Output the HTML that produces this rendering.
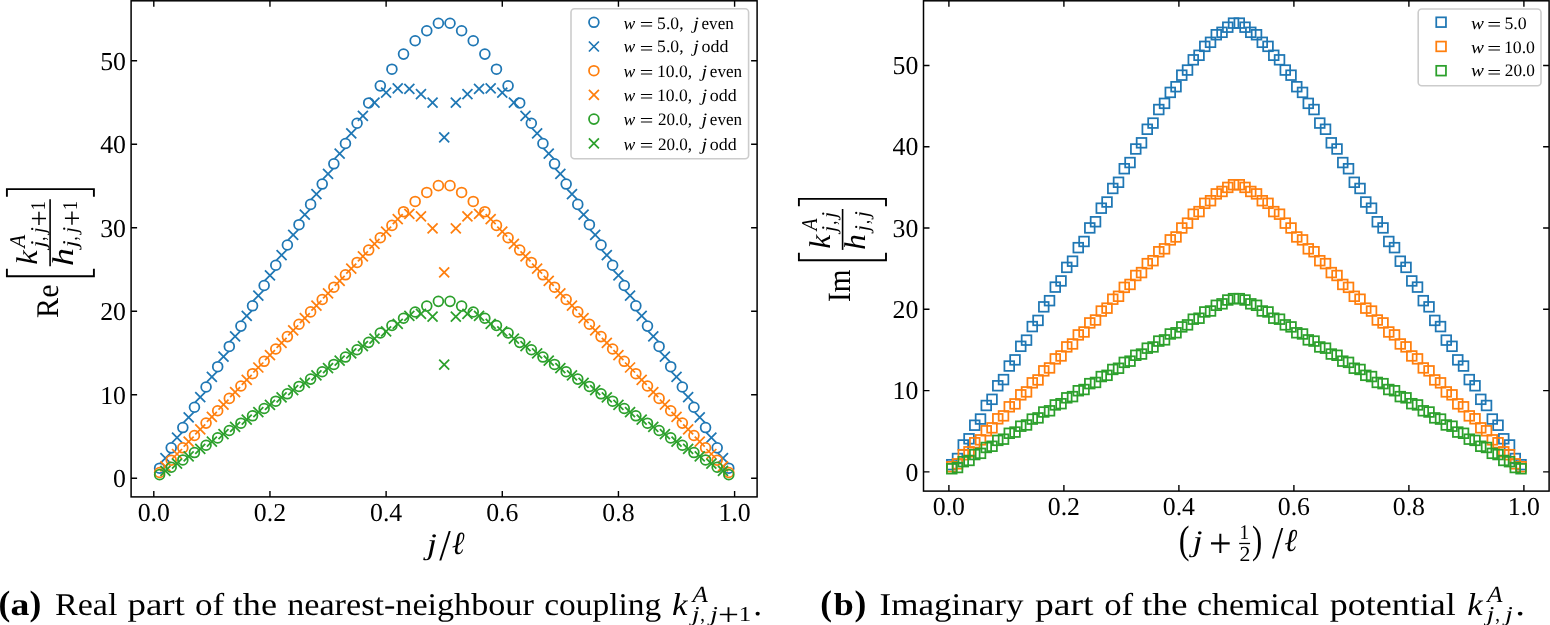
<!DOCTYPE html>
<html><head><meta charset="utf-8"><title>figure</title>
<style>html,body{margin:0;padding:0;background:#fff;overflow:hidden;} svg{display:block;}</style>
</head><body>
<svg width="1550" height="625" viewBox="0 0 1550 625">
<style>
text { font-family: "Liberation Serif", "DejaVu Serif", serif; fill:#000; text-rendering: geometricPrecision; }
.tk { font-size: 25.8px; }
.lg { font-size: 16.9px; white-space: pre; }
</style>
<rect width="1550" height="625" fill="#fff"/>
<g fill="none" stroke-width="1.75"><circle cx="159.61" cy="468.15" r="4.9" stroke="#1f77b4"/><circle cx="171.22" cy="447.86" r="4.9" stroke="#1f77b4"/><circle cx="182.84" cy="427.57" r="4.9" stroke="#1f77b4"/><circle cx="194.46" cy="407.28" r="4.9" stroke="#1f77b4"/><circle cx="206.07" cy="386.99" r="4.9" stroke="#1f77b4"/><circle cx="217.69" cy="366.70" r="4.9" stroke="#1f77b4"/><circle cx="229.30" cy="346.41" r="4.9" stroke="#1f77b4"/><circle cx="240.92" cy="326.12" r="4.9" stroke="#1f77b4"/><circle cx="252.54" cy="305.83" r="4.9" stroke="#1f77b4"/><circle cx="264.15" cy="285.54" r="4.9" stroke="#1f77b4"/><circle cx="275.77" cy="265.25" r="4.9" stroke="#1f77b4"/><circle cx="287.38" cy="244.96" r="4.9" stroke="#1f77b4"/><circle cx="299.00" cy="224.67" r="4.9" stroke="#1f77b4"/><circle cx="310.62" cy="204.38" r="4.9" stroke="#1f77b4"/><circle cx="322.23" cy="184.09" r="4.9" stroke="#1f77b4"/><circle cx="333.85" cy="163.80" r="4.9" stroke="#1f77b4"/><circle cx="345.46" cy="143.51" r="4.9" stroke="#1f77b4"/><circle cx="357.08" cy="123.22" r="4.9" stroke="#1f77b4"/><circle cx="368.70" cy="102.93" r="4.9" stroke="#1f77b4"/><circle cx="380.31" cy="85.85" r="4.9" stroke="#1f77b4"/><circle cx="391.93" cy="69.15" r="4.9" stroke="#1f77b4"/><circle cx="403.54" cy="54.12" r="4.9" stroke="#1f77b4"/><circle cx="415.16" cy="40.76" r="4.9" stroke="#1f77b4"/><circle cx="426.78" cy="30.74" r="4.9" stroke="#1f77b4"/><circle cx="438.39" cy="23.23" r="4.9" stroke="#1f77b4"/><circle cx="450.01" cy="23.23" r="4.9" stroke="#1f77b4"/><circle cx="461.62" cy="30.74" r="4.9" stroke="#1f77b4"/><circle cx="473.24" cy="40.76" r="4.9" stroke="#1f77b4"/><circle cx="484.86" cy="54.12" r="4.9" stroke="#1f77b4"/><circle cx="496.47" cy="69.15" r="4.9" stroke="#1f77b4"/><circle cx="508.09" cy="85.85" r="4.9" stroke="#1f77b4"/><circle cx="519.70" cy="102.93" r="4.9" stroke="#1f77b4"/><circle cx="531.32" cy="123.22" r="4.9" stroke="#1f77b4"/><circle cx="542.94" cy="143.51" r="4.9" stroke="#1f77b4"/><circle cx="554.55" cy="163.80" r="4.9" stroke="#1f77b4"/><circle cx="566.17" cy="184.09" r="4.9" stroke="#1f77b4"/><circle cx="577.78" cy="204.38" r="4.9" stroke="#1f77b4"/><circle cx="589.40" cy="224.67" r="4.9" stroke="#1f77b4"/><circle cx="601.02" cy="244.96" r="4.9" stroke="#1f77b4"/><circle cx="612.63" cy="265.25" r="4.9" stroke="#1f77b4"/><circle cx="624.25" cy="285.54" r="4.9" stroke="#1f77b4"/><circle cx="635.86" cy="305.83" r="4.9" stroke="#1f77b4"/><circle cx="647.48" cy="326.12" r="4.9" stroke="#1f77b4"/><circle cx="659.10" cy="346.41" r="4.9" stroke="#1f77b4"/><circle cx="670.71" cy="366.70" r="4.9" stroke="#1f77b4"/><circle cx="682.33" cy="386.99" r="4.9" stroke="#1f77b4"/><circle cx="693.94" cy="407.28" r="4.9" stroke="#1f77b4"/><circle cx="705.56" cy="427.57" r="4.9" stroke="#1f77b4"/><circle cx="717.18" cy="447.86" r="4.9" stroke="#1f77b4"/><circle cx="728.79" cy="468.15" r="4.9" stroke="#1f77b4"/></g>
<g fill="none" stroke-width="1.75"><path d="M160.42 453.01L170.42 463.01M160.42 463.01L170.42 453.01" stroke="#1f77b4"/><path d="M172.03 432.72L182.03 442.72M172.03 442.72L182.03 432.72" stroke="#1f77b4"/><path d="M183.65 412.43L193.65 422.43M183.65 422.43L193.65 412.43" stroke="#1f77b4"/><path d="M195.26 392.14L205.26 402.14M195.26 402.14L205.26 392.14" stroke="#1f77b4"/><path d="M206.88 371.85L216.88 381.85M206.88 381.85L216.88 371.85" stroke="#1f77b4"/><path d="M218.50 351.56L228.50 361.56M218.50 361.56L228.50 351.56" stroke="#1f77b4"/><path d="M230.11 331.27L240.11 341.27M230.11 341.27L240.11 331.27" stroke="#1f77b4"/><path d="M241.73 310.98L251.73 320.98M241.73 320.98L251.73 310.98" stroke="#1f77b4"/><path d="M253.34 290.69L263.34 300.69M253.34 300.69L263.34 290.69" stroke="#1f77b4"/><path d="M264.96 270.39L274.96 280.39M264.96 280.39L274.96 270.39" stroke="#1f77b4"/><path d="M276.58 250.10L286.58 260.10M276.58 260.10L286.58 250.10" stroke="#1f77b4"/><path d="M288.19 229.81L298.19 239.81M288.19 239.81L298.19 229.81" stroke="#1f77b4"/><path d="M299.81 209.52L309.81 219.52M299.81 219.52L309.81 209.52" stroke="#1f77b4"/><path d="M311.42 189.23L321.42 199.23M311.42 199.23L321.42 189.23" stroke="#1f77b4"/><path d="M323.04 168.94L333.04 178.94M323.04 178.94L333.04 168.94" stroke="#1f77b4"/><path d="M334.66 148.65L344.66 158.65M334.66 158.65L344.66 148.65" stroke="#1f77b4"/><path d="M346.27 128.36L356.27 138.36M346.27 138.36L356.27 128.36" stroke="#1f77b4"/><path d="M357.89 110.91L367.89 120.91M357.89 120.91L367.89 110.91" stroke="#1f77b4"/><path d="M369.50 97.55L379.50 107.55M369.50 107.55L379.50 97.55" stroke="#1f77b4"/><path d="M381.12 87.53L391.12 97.53M381.12 97.53L391.12 87.53" stroke="#1f77b4"/><path d="M392.74 83.36L402.74 93.36M392.74 93.36L402.74 83.36" stroke="#1f77b4"/><path d="M404.35 83.77L414.35 93.77M404.35 93.77L414.35 83.77" stroke="#1f77b4"/><path d="M415.97 89.20L425.97 99.20M415.97 99.20L425.97 89.20" stroke="#1f77b4"/><path d="M427.58 97.55L437.58 107.55M427.58 107.55L437.58 97.55" stroke="#1f77b4"/><path d="M439.20 132.37L449.20 142.37M439.20 142.37L449.20 132.37" stroke="#1f77b4"/><path d="M450.82 97.55L460.82 107.55M450.82 107.55L460.82 97.55" stroke="#1f77b4"/><path d="M462.43 89.20L472.43 99.20M462.43 99.20L472.43 89.20" stroke="#1f77b4"/><path d="M474.05 83.77L484.05 93.77M474.05 93.77L484.05 83.77" stroke="#1f77b4"/><path d="M485.66 83.36L495.66 93.36M485.66 93.36L495.66 83.36" stroke="#1f77b4"/><path d="M497.28 87.53L507.28 97.53M497.28 97.53L507.28 87.53" stroke="#1f77b4"/><path d="M508.90 97.55L518.90 107.55M508.90 107.55L518.90 97.55" stroke="#1f77b4"/><path d="M520.51 110.91L530.51 120.91M520.51 120.91L530.51 110.91" stroke="#1f77b4"/><path d="M532.13 128.36L542.13 138.36M532.13 138.36L542.13 128.36" stroke="#1f77b4"/><path d="M543.74 148.65L553.74 158.65M543.74 158.65L553.74 148.65" stroke="#1f77b4"/><path d="M555.36 168.94L565.36 178.94M555.36 178.94L565.36 168.94" stroke="#1f77b4"/><path d="M566.98 189.23L576.98 199.23M566.98 199.23L576.98 189.23" stroke="#1f77b4"/><path d="M578.59 209.52L588.59 219.52M578.59 219.52L588.59 209.52" stroke="#1f77b4"/><path d="M590.21 229.81L600.21 239.81M590.21 239.81L600.21 229.81" stroke="#1f77b4"/><path d="M601.82 250.10L611.82 260.10M601.82 260.10L611.82 250.10" stroke="#1f77b4"/><path d="M613.44 270.40L623.44 280.40M613.44 280.40L623.44 270.40" stroke="#1f77b4"/><path d="M625.06 290.69L635.06 300.69M625.06 300.69L635.06 290.69" stroke="#1f77b4"/><path d="M636.67 310.98L646.67 320.98M636.67 320.98L646.67 310.98" stroke="#1f77b4"/><path d="M648.29 331.27L658.29 341.27M648.29 341.27L658.29 331.27" stroke="#1f77b4"/><path d="M659.90 351.56L669.90 361.56M659.90 361.56L669.90 351.56" stroke="#1f77b4"/><path d="M671.52 371.85L681.52 381.85M671.52 381.85L681.52 371.85" stroke="#1f77b4"/><path d="M683.14 392.14L693.14 402.14M683.14 402.14L693.14 392.14" stroke="#1f77b4"/><path d="M694.75 412.43L704.75 422.43M694.75 422.43L704.75 412.43" stroke="#1f77b4"/><path d="M706.37 432.72L716.37 442.72M706.37 442.72L716.37 432.72" stroke="#1f77b4"/><path d="M717.98 453.01L727.98 463.01M717.98 463.01L727.98 453.01" stroke="#1f77b4"/></g>
<g fill="none" stroke-width="1.75"><circle cx="159.61" cy="472.54" r="4.9" stroke="#ff7f0e"/><circle cx="171.22" cy="460.18" r="4.9" stroke="#ff7f0e"/><circle cx="182.84" cy="447.82" r="4.9" stroke="#ff7f0e"/><circle cx="194.46" cy="435.46" r="4.9" stroke="#ff7f0e"/><circle cx="206.07" cy="423.11" r="4.9" stroke="#ff7f0e"/><circle cx="217.69" cy="410.75" r="4.9" stroke="#ff7f0e"/><circle cx="229.30" cy="398.39" r="4.9" stroke="#ff7f0e"/><circle cx="240.92" cy="386.03" r="4.9" stroke="#ff7f0e"/><circle cx="252.54" cy="373.67" r="4.9" stroke="#ff7f0e"/><circle cx="264.15" cy="361.32" r="4.9" stroke="#ff7f0e"/><circle cx="275.77" cy="348.96" r="4.9" stroke="#ff7f0e"/><circle cx="287.38" cy="336.60" r="4.9" stroke="#ff7f0e"/><circle cx="299.00" cy="324.24" r="4.9" stroke="#ff7f0e"/><circle cx="310.62" cy="311.88" r="4.9" stroke="#ff7f0e"/><circle cx="322.23" cy="299.53" r="4.9" stroke="#ff7f0e"/><circle cx="333.85" cy="287.17" r="4.9" stroke="#ff7f0e"/><circle cx="345.46" cy="274.81" r="4.9" stroke="#ff7f0e"/><circle cx="357.08" cy="262.45" r="4.9" stroke="#ff7f0e"/><circle cx="368.70" cy="250.09" r="4.9" stroke="#ff7f0e"/><circle cx="380.31" cy="237.74" r="4.9" stroke="#ff7f0e"/><circle cx="391.93" cy="225.38" r="4.9" stroke="#ff7f0e"/><circle cx="403.54" cy="211.68" r="4.9" stroke="#ff7f0e"/><circle cx="415.16" cy="201.41" r="4.9" stroke="#ff7f0e"/><circle cx="426.78" cy="192.40" r="4.9" stroke="#ff7f0e"/><circle cx="438.39" cy="185.63" r="4.9" stroke="#ff7f0e"/><circle cx="450.01" cy="185.63" r="4.9" stroke="#ff7f0e"/><circle cx="461.62" cy="192.40" r="4.9" stroke="#ff7f0e"/><circle cx="473.24" cy="201.41" r="4.9" stroke="#ff7f0e"/><circle cx="484.86" cy="211.68" r="4.9" stroke="#ff7f0e"/><circle cx="496.47" cy="225.38" r="4.9" stroke="#ff7f0e"/><circle cx="508.09" cy="237.74" r="4.9" stroke="#ff7f0e"/><circle cx="519.70" cy="250.09" r="4.9" stroke="#ff7f0e"/><circle cx="531.32" cy="262.45" r="4.9" stroke="#ff7f0e"/><circle cx="542.94" cy="274.81" r="4.9" stroke="#ff7f0e"/><circle cx="554.55" cy="287.17" r="4.9" stroke="#ff7f0e"/><circle cx="566.17" cy="299.53" r="4.9" stroke="#ff7f0e"/><circle cx="577.78" cy="311.88" r="4.9" stroke="#ff7f0e"/><circle cx="589.40" cy="324.24" r="4.9" stroke="#ff7f0e"/><circle cx="601.02" cy="336.60" r="4.9" stroke="#ff7f0e"/><circle cx="612.63" cy="348.96" r="4.9" stroke="#ff7f0e"/><circle cx="624.25" cy="361.32" r="4.9" stroke="#ff7f0e"/><circle cx="635.86" cy="373.67" r="4.9" stroke="#ff7f0e"/><circle cx="647.48" cy="386.03" r="4.9" stroke="#ff7f0e"/><circle cx="659.10" cy="398.39" r="4.9" stroke="#ff7f0e"/><circle cx="670.71" cy="410.75" r="4.9" stroke="#ff7f0e"/><circle cx="682.33" cy="423.11" r="4.9" stroke="#ff7f0e"/><circle cx="693.94" cy="435.46" r="4.9" stroke="#ff7f0e"/><circle cx="705.56" cy="447.82" r="4.9" stroke="#ff7f0e"/><circle cx="717.18" cy="460.18" r="4.9" stroke="#ff7f0e"/><circle cx="728.79" cy="472.54" r="4.9" stroke="#ff7f0e"/></g>
<g fill="none" stroke-width="1.75"><path d="M160.42 461.36L170.42 471.36M160.42 471.36L170.42 461.36" stroke="#ff7f0e"/><path d="M172.03 449.00L182.03 459.00M172.03 459.00L182.03 449.00" stroke="#ff7f0e"/><path d="M183.65 436.64L193.65 446.64M183.65 446.64L193.65 436.64" stroke="#ff7f0e"/><path d="M195.26 424.29L205.26 434.29M195.26 434.29L205.26 424.29" stroke="#ff7f0e"/><path d="M206.88 411.93L216.88 421.93M206.88 421.93L216.88 411.93" stroke="#ff7f0e"/><path d="M218.50 399.57L228.50 409.57M218.50 409.57L228.50 399.57" stroke="#ff7f0e"/><path d="M230.11 387.21L240.11 397.21M230.11 397.21L240.11 387.21" stroke="#ff7f0e"/><path d="M241.73 374.85L251.73 384.85M241.73 384.85L251.73 374.85" stroke="#ff7f0e"/><path d="M253.34 362.50L263.34 372.50M253.34 372.50L263.34 362.50" stroke="#ff7f0e"/><path d="M264.96 350.14L274.96 360.14M264.96 360.14L274.96 350.14" stroke="#ff7f0e"/><path d="M276.58 337.78L286.58 347.78M276.58 347.78L286.58 337.78" stroke="#ff7f0e"/><path d="M288.19 325.42L298.19 335.42M288.19 335.42L298.19 325.42" stroke="#ff7f0e"/><path d="M299.81 313.06L309.81 323.06M299.81 323.06L309.81 313.06" stroke="#ff7f0e"/><path d="M311.42 300.71L321.42 310.71M311.42 310.71L321.42 300.71" stroke="#ff7f0e"/><path d="M323.04 288.35L333.04 298.35M323.04 298.35L333.04 288.35" stroke="#ff7f0e"/><path d="M334.66 275.99L344.66 285.99M334.66 285.99L344.66 275.99" stroke="#ff7f0e"/><path d="M346.27 263.63L356.27 273.63M346.27 273.63L356.27 263.63" stroke="#ff7f0e"/><path d="M357.89 251.27L367.89 261.27M357.89 261.27L367.89 251.27" stroke="#ff7f0e"/><path d="M369.50 238.92L379.50 248.92M369.50 248.92L379.50 238.92" stroke="#ff7f0e"/><path d="M381.12 226.56L391.12 236.56M381.12 236.56L391.12 226.56" stroke="#ff7f0e"/><path d="M392.74 214.20L402.74 224.20M392.74 224.20L402.74 214.20" stroke="#ff7f0e"/><path d="M404.35 208.94L414.35 218.94M404.35 218.94L414.35 208.94" stroke="#ff7f0e"/><path d="M415.97 211.44L425.97 221.44M415.97 221.44L425.97 211.44" stroke="#ff7f0e"/><path d="M427.58 223.38L437.58 233.38M427.58 233.38L437.58 223.38" stroke="#ff7f0e"/><path d="M439.20 267.47L449.20 277.47M439.20 277.47L449.20 267.47" stroke="#ff7f0e"/><path d="M450.82 223.38L460.82 233.38M450.82 233.38L460.82 223.38" stroke="#ff7f0e"/><path d="M462.43 211.44L472.43 221.44M462.43 221.44L472.43 211.44" stroke="#ff7f0e"/><path d="M474.05 208.94L484.05 218.94M474.05 218.94L484.05 208.94" stroke="#ff7f0e"/><path d="M485.66 214.20L495.66 224.20M485.66 224.20L495.66 214.20" stroke="#ff7f0e"/><path d="M497.28 226.56L507.28 236.56M497.28 236.56L507.28 226.56" stroke="#ff7f0e"/><path d="M508.90 238.92L518.90 248.92M508.90 248.92L518.90 238.92" stroke="#ff7f0e"/><path d="M520.51 251.27L530.51 261.27M520.51 261.27L530.51 251.27" stroke="#ff7f0e"/><path d="M532.13 263.63L542.13 273.63M532.13 273.63L542.13 263.63" stroke="#ff7f0e"/><path d="M543.74 275.99L553.74 285.99M543.74 285.99L553.74 275.99" stroke="#ff7f0e"/><path d="M555.36 288.35L565.36 298.35M555.36 298.35L565.36 288.35" stroke="#ff7f0e"/><path d="M566.98 300.71L576.98 310.71M566.98 310.71L576.98 300.71" stroke="#ff7f0e"/><path d="M578.59 313.06L588.59 323.06M578.59 323.06L588.59 313.06" stroke="#ff7f0e"/><path d="M590.21 325.42L600.21 335.42M590.21 335.42L600.21 325.42" stroke="#ff7f0e"/><path d="M601.82 337.78L611.82 347.78M601.82 347.78L611.82 337.78" stroke="#ff7f0e"/><path d="M613.44 350.14L623.44 360.14M613.44 360.14L623.44 350.14" stroke="#ff7f0e"/><path d="M625.06 362.50L635.06 372.50M625.06 372.50L635.06 362.50" stroke="#ff7f0e"/><path d="M636.67 374.85L646.67 384.85M636.67 384.85L646.67 374.85" stroke="#ff7f0e"/><path d="M648.29 387.21L658.29 397.21M648.29 397.21L658.29 387.21" stroke="#ff7f0e"/><path d="M659.90 399.57L669.90 409.57M659.90 409.57L669.90 399.57" stroke="#ff7f0e"/><path d="M671.52 411.93L681.52 421.93M671.52 421.93L681.52 411.93" stroke="#ff7f0e"/><path d="M683.14 424.29L693.14 434.29M683.14 434.29L693.14 424.29" stroke="#ff7f0e"/><path d="M694.75 436.64L704.75 446.64M694.75 446.64L704.75 436.64" stroke="#ff7f0e"/><path d="M706.37 449.00L716.37 459.00M706.37 459.00L716.37 449.00" stroke="#ff7f0e"/><path d="M717.98 461.36L727.98 471.36M717.98 471.36L727.98 461.36" stroke="#ff7f0e"/></g>
<g fill="none" stroke-width="1.75"><circle cx="159.61" cy="474.63" r="4.9" stroke="#2ca02c"/><circle cx="171.22" cy="467.28" r="4.9" stroke="#2ca02c"/><circle cx="182.84" cy="459.93" r="4.9" stroke="#2ca02c"/><circle cx="194.46" cy="452.58" r="4.9" stroke="#2ca02c"/><circle cx="206.07" cy="445.23" r="4.9" stroke="#2ca02c"/><circle cx="217.69" cy="437.89" r="4.9" stroke="#2ca02c"/><circle cx="229.30" cy="430.54" r="4.9" stroke="#2ca02c"/><circle cx="240.92" cy="423.19" r="4.9" stroke="#2ca02c"/><circle cx="252.54" cy="415.84" r="4.9" stroke="#2ca02c"/><circle cx="264.15" cy="408.49" r="4.9" stroke="#2ca02c"/><circle cx="275.77" cy="401.15" r="4.9" stroke="#2ca02c"/><circle cx="287.38" cy="393.80" r="4.9" stroke="#2ca02c"/><circle cx="299.00" cy="386.45" r="4.9" stroke="#2ca02c"/><circle cx="310.62" cy="379.10" r="4.9" stroke="#2ca02c"/><circle cx="322.23" cy="371.75" r="4.9" stroke="#2ca02c"/><circle cx="333.85" cy="364.41" r="4.9" stroke="#2ca02c"/><circle cx="345.46" cy="357.06" r="4.9" stroke="#2ca02c"/><circle cx="357.08" cy="349.71" r="4.9" stroke="#2ca02c"/><circle cx="368.70" cy="342.36" r="4.9" stroke="#2ca02c"/><circle cx="380.31" cy="333.01" r="4.9" stroke="#2ca02c"/><circle cx="391.93" cy="325.50" r="4.9" stroke="#2ca02c"/><circle cx="403.54" cy="318.23" r="4.9" stroke="#2ca02c"/><circle cx="415.16" cy="311.97" r="4.9" stroke="#2ca02c"/><circle cx="426.78" cy="306.12" r="4.9" stroke="#2ca02c"/><circle cx="438.39" cy="301.36" r="4.9" stroke="#2ca02c"/><circle cx="450.01" cy="301.36" r="4.9" stroke="#2ca02c"/><circle cx="461.62" cy="306.12" r="4.9" stroke="#2ca02c"/><circle cx="473.24" cy="311.97" r="4.9" stroke="#2ca02c"/><circle cx="484.86" cy="318.23" r="4.9" stroke="#2ca02c"/><circle cx="496.47" cy="325.50" r="4.9" stroke="#2ca02c"/><circle cx="508.09" cy="333.01" r="4.9" stroke="#2ca02c"/><circle cx="519.70" cy="342.36" r="4.9" stroke="#2ca02c"/><circle cx="531.32" cy="349.71" r="4.9" stroke="#2ca02c"/><circle cx="542.94" cy="357.06" r="4.9" stroke="#2ca02c"/><circle cx="554.55" cy="364.41" r="4.9" stroke="#2ca02c"/><circle cx="566.17" cy="371.75" r="4.9" stroke="#2ca02c"/><circle cx="577.78" cy="379.10" r="4.9" stroke="#2ca02c"/><circle cx="589.40" cy="386.45" r="4.9" stroke="#2ca02c"/><circle cx="601.02" cy="393.80" r="4.9" stroke="#2ca02c"/><circle cx="612.63" cy="401.15" r="4.9" stroke="#2ca02c"/><circle cx="624.25" cy="408.49" r="4.9" stroke="#2ca02c"/><circle cx="635.86" cy="415.84" r="4.9" stroke="#2ca02c"/><circle cx="647.48" cy="423.19" r="4.9" stroke="#2ca02c"/><circle cx="659.10" cy="430.54" r="4.9" stroke="#2ca02c"/><circle cx="670.71" cy="437.89" r="4.9" stroke="#2ca02c"/><circle cx="682.33" cy="445.23" r="4.9" stroke="#2ca02c"/><circle cx="693.94" cy="452.58" r="4.9" stroke="#2ca02c"/><circle cx="705.56" cy="459.93" r="4.9" stroke="#2ca02c"/><circle cx="717.18" cy="467.28" r="4.9" stroke="#2ca02c"/><circle cx="728.79" cy="474.63" r="4.9" stroke="#2ca02c"/></g>
<g fill="none" stroke-width="1.75"><path d="M160.42 465.95L170.42 475.95M160.42 475.95L170.42 465.95" stroke="#2ca02c"/><path d="M172.03 458.60L182.03 468.60M172.03 468.60L182.03 458.60" stroke="#2ca02c"/><path d="M183.65 451.26L193.65 461.26M183.65 461.26L193.65 451.26" stroke="#2ca02c"/><path d="M195.26 443.91L205.26 453.91M195.26 453.91L205.26 443.91" stroke="#2ca02c"/><path d="M206.88 436.56L216.88 446.56M206.88 446.56L216.88 436.56" stroke="#2ca02c"/><path d="M218.50 429.21L228.50 439.21M218.50 439.21L228.50 429.21" stroke="#2ca02c"/><path d="M230.11 421.86L240.11 431.86M230.11 431.86L240.11 421.86" stroke="#2ca02c"/><path d="M241.73 414.52L251.73 424.52M241.73 424.52L251.73 414.52" stroke="#2ca02c"/><path d="M253.34 407.17L263.34 417.17M253.34 417.17L263.34 407.17" stroke="#2ca02c"/><path d="M264.96 399.82L274.96 409.82M264.96 409.82L274.96 399.82" stroke="#2ca02c"/><path d="M276.58 392.47L286.58 402.47M276.58 402.47L286.58 392.47" stroke="#2ca02c"/><path d="M288.19 385.12L298.19 395.12M288.19 395.12L298.19 385.12" stroke="#2ca02c"/><path d="M299.81 377.78L309.81 387.78M299.81 387.78L309.81 377.78" stroke="#2ca02c"/><path d="M311.42 370.43L321.42 380.43M311.42 380.43L321.42 370.43" stroke="#2ca02c"/><path d="M323.04 363.08L333.04 373.08M323.04 373.08L333.04 363.08" stroke="#2ca02c"/><path d="M334.66 355.73L344.66 365.73M334.66 365.73L344.66 355.73" stroke="#2ca02c"/><path d="M346.27 348.38L356.27 358.38M346.27 358.38L356.27 348.38" stroke="#2ca02c"/><path d="M357.89 341.04L367.89 351.04M357.89 351.04L367.89 341.04" stroke="#2ca02c"/><path d="M369.50 333.69L379.50 343.69M369.50 343.69L379.50 333.69" stroke="#2ca02c"/><path d="M381.12 326.34L391.12 336.34M381.12 336.34L391.12 326.34" stroke="#2ca02c"/><path d="M392.74 318.99L402.74 328.99M392.74 328.99L402.74 318.99" stroke="#2ca02c"/><path d="M404.35 310.89L414.35 320.89M404.35 320.89L414.35 310.89" stroke="#2ca02c"/><path d="M415.97 308.81L425.97 318.81M415.97 318.81L425.97 308.81" stroke="#2ca02c"/><path d="M427.58 311.73L437.58 321.73M427.58 321.73L437.58 311.73" stroke="#2ca02c"/><path d="M439.20 359.74L449.20 369.74M439.20 369.74L449.20 359.74" stroke="#2ca02c"/><path d="M450.82 311.73L460.82 321.73M450.82 321.73L460.82 311.73" stroke="#2ca02c"/><path d="M462.43 308.81L472.43 318.81M462.43 318.81L472.43 308.81" stroke="#2ca02c"/><path d="M474.05 310.89L484.05 320.89M474.05 320.89L484.05 310.89" stroke="#2ca02c"/><path d="M485.66 318.99L495.66 328.99M485.66 328.99L495.66 318.99" stroke="#2ca02c"/><path d="M497.28 326.34L507.28 336.34M497.28 336.34L507.28 326.34" stroke="#2ca02c"/><path d="M508.90 333.69L518.90 343.69M508.90 343.69L518.90 333.69" stroke="#2ca02c"/><path d="M520.51 341.04L530.51 351.04M520.51 351.04L530.51 341.04" stroke="#2ca02c"/><path d="M532.13 348.38L542.13 358.38M532.13 358.38L542.13 348.38" stroke="#2ca02c"/><path d="M543.74 355.73L553.74 365.73M543.74 365.73L553.74 355.73" stroke="#2ca02c"/><path d="M555.36 363.08L565.36 373.08M555.36 373.08L565.36 363.08" stroke="#2ca02c"/><path d="M566.98 370.43L576.98 380.43M566.98 380.43L576.98 370.43" stroke="#2ca02c"/><path d="M578.59 377.78L588.59 387.78M578.59 387.78L588.59 377.78" stroke="#2ca02c"/><path d="M590.21 385.12L600.21 395.12M590.21 395.12L600.21 385.12" stroke="#2ca02c"/><path d="M601.82 392.47L611.82 402.47M601.82 402.47L611.82 392.47" stroke="#2ca02c"/><path d="M613.44 399.82L623.44 409.82M613.44 409.82L623.44 399.82" stroke="#2ca02c"/><path d="M625.06 407.17L635.06 417.17M625.06 417.17L635.06 407.17" stroke="#2ca02c"/><path d="M636.67 414.52L646.67 424.52M636.67 424.52L646.67 414.52" stroke="#2ca02c"/><path d="M648.29 421.86L658.29 431.86M648.29 431.86L658.29 421.86" stroke="#2ca02c"/><path d="M659.90 429.21L669.90 439.21M659.90 439.21L669.90 429.21" stroke="#2ca02c"/><path d="M671.52 436.56L681.52 446.56M671.52 446.56L681.52 436.56" stroke="#2ca02c"/><path d="M683.14 443.91L693.14 453.91M683.14 453.91L693.14 443.91" stroke="#2ca02c"/><path d="M694.75 451.26L704.75 461.26M694.75 461.26L704.75 451.26" stroke="#2ca02c"/><path d="M706.37 458.60L716.37 468.60M706.37 468.60L716.37 458.60" stroke="#2ca02c"/><path d="M717.98 465.95L727.98 475.95M717.98 475.95L727.98 465.95" stroke="#2ca02c"/></g>
<g fill="none" stroke-width="1.75"><rect x="946.92" y="459.85" width="9.70" height="9.70" stroke="#1f77b4"/><rect x="952.67" y="453.68" width="9.70" height="9.70" stroke="#1f77b4"/><rect x="958.42" y="440.12" width="9.70" height="9.70" stroke="#1f77b4"/><rect x="964.17" y="433.95" width="9.70" height="9.70" stroke="#1f77b4"/><rect x="969.92" y="420.38" width="9.70" height="9.70" stroke="#1f77b4"/><rect x="975.67" y="414.21" width="9.70" height="9.70" stroke="#1f77b4"/><rect x="981.42" y="400.65" width="9.70" height="9.70" stroke="#1f77b4"/><rect x="987.17" y="394.48" width="9.70" height="9.70" stroke="#1f77b4"/><rect x="992.92" y="380.92" width="9.70" height="9.70" stroke="#1f77b4"/><rect x="998.67" y="374.75" width="9.70" height="9.70" stroke="#1f77b4"/><rect x="1004.42" y="361.19" width="9.70" height="9.70" stroke="#1f77b4"/><rect x="1010.17" y="355.02" width="9.70" height="9.70" stroke="#1f77b4"/><rect x="1015.92" y="341.46" width="9.70" height="9.70" stroke="#1f77b4"/><rect x="1021.68" y="335.29" width="9.70" height="9.70" stroke="#1f77b4"/><rect x="1027.43" y="321.73" width="9.70" height="9.70" stroke="#1f77b4"/><rect x="1033.18" y="315.56" width="9.70" height="9.70" stroke="#1f77b4"/><rect x="1038.93" y="302.00" width="9.70" height="9.70" stroke="#1f77b4"/><rect x="1044.68" y="295.82" width="9.70" height="9.70" stroke="#1f77b4"/><rect x="1050.43" y="282.26" width="9.70" height="9.70" stroke="#1f77b4"/><rect x="1056.18" y="276.09" width="9.70" height="9.70" stroke="#1f77b4"/><rect x="1061.93" y="262.53" width="9.70" height="9.70" stroke="#1f77b4"/><rect x="1067.68" y="256.36" width="9.70" height="9.70" stroke="#1f77b4"/><rect x="1073.43" y="242.80" width="9.70" height="9.70" stroke="#1f77b4"/><rect x="1079.18" y="236.63" width="9.70" height="9.70" stroke="#1f77b4"/><rect x="1084.93" y="223.07" width="9.70" height="9.70" stroke="#1f77b4"/><rect x="1090.68" y="216.90" width="9.70" height="9.70" stroke="#1f77b4"/><rect x="1096.43" y="203.34" width="9.70" height="9.70" stroke="#1f77b4"/><rect x="1102.18" y="197.17" width="9.70" height="9.70" stroke="#1f77b4"/><rect x="1107.93" y="183.61" width="9.70" height="9.70" stroke="#1f77b4"/><rect x="1113.68" y="177.43" width="9.70" height="9.70" stroke="#1f77b4"/><rect x="1119.43" y="163.87" width="9.70" height="9.70" stroke="#1f77b4"/><rect x="1125.18" y="157.70" width="9.70" height="9.70" stroke="#1f77b4"/><rect x="1130.93" y="144.14" width="9.70" height="9.70" stroke="#1f77b4"/><rect x="1136.68" y="137.97" width="9.70" height="9.70" stroke="#1f77b4"/><rect x="1142.42" y="124.41" width="9.70" height="9.70" stroke="#1f77b4"/><rect x="1148.18" y="118.24" width="9.70" height="9.70" stroke="#1f77b4"/><rect x="1153.93" y="104.68" width="9.70" height="9.70" stroke="#1f77b4"/><rect x="1159.68" y="98.51" width="9.70" height="9.70" stroke="#1f77b4"/><rect x="1165.43" y="87.55" width="9.70" height="9.70" stroke="#1f77b4"/><rect x="1171.18" y="81.86" width="9.70" height="9.70" stroke="#1f77b4"/><rect x="1176.93" y="70.33" width="9.70" height="9.70" stroke="#1f77b4"/><rect x="1182.68" y="65.22" width="9.70" height="9.70" stroke="#1f77b4"/><rect x="1188.43" y="54.98" width="9.70" height="9.70" stroke="#1f77b4"/><rect x="1194.18" y="50.44" width="9.70" height="9.70" stroke="#1f77b4"/><rect x="1199.93" y="41.51" width="9.70" height="9.70" stroke="#1f77b4"/><rect x="1205.68" y="37.45" width="9.70" height="9.70" stroke="#1f77b4"/><rect x="1211.43" y="29.89" width="9.70" height="9.70" stroke="#1f77b4"/><rect x="1217.18" y="27.46" width="9.70" height="9.70" stroke="#1f77b4"/><rect x="1222.93" y="22.34" width="9.70" height="9.70" stroke="#1f77b4"/><rect x="1228.68" y="18.28" width="9.70" height="9.70" stroke="#1f77b4"/><rect x="1234.43" y="18.28" width="9.70" height="9.70" stroke="#1f77b4"/><rect x="1240.18" y="22.34" width="9.70" height="9.70" stroke="#1f77b4"/><rect x="1245.93" y="27.46" width="9.70" height="9.70" stroke="#1f77b4"/><rect x="1251.68" y="29.89" width="9.70" height="9.70" stroke="#1f77b4"/><rect x="1257.43" y="37.45" width="9.70" height="9.70" stroke="#1f77b4"/><rect x="1263.18" y="41.51" width="9.70" height="9.70" stroke="#1f77b4"/><rect x="1268.92" y="50.44" width="9.70" height="9.70" stroke="#1f77b4"/><rect x="1274.68" y="54.98" width="9.70" height="9.70" stroke="#1f77b4"/><rect x="1280.43" y="65.22" width="9.70" height="9.70" stroke="#1f77b4"/><rect x="1286.18" y="70.33" width="9.70" height="9.70" stroke="#1f77b4"/><rect x="1291.93" y="81.86" width="9.70" height="9.70" stroke="#1f77b4"/><rect x="1297.68" y="87.55" width="9.70" height="9.70" stroke="#1f77b4"/><rect x="1303.43" y="98.51" width="9.70" height="9.70" stroke="#1f77b4"/><rect x="1309.18" y="104.68" width="9.70" height="9.70" stroke="#1f77b4"/><rect x="1314.93" y="118.24" width="9.70" height="9.70" stroke="#1f77b4"/><rect x="1320.68" y="124.41" width="9.70" height="9.70" stroke="#1f77b4"/><rect x="1326.43" y="137.97" width="9.70" height="9.70" stroke="#1f77b4"/><rect x="1332.18" y="144.14" width="9.70" height="9.70" stroke="#1f77b4"/><rect x="1337.93" y="157.70" width="9.70" height="9.70" stroke="#1f77b4"/><rect x="1343.68" y="163.87" width="9.70" height="9.70" stroke="#1f77b4"/><rect x="1349.43" y="177.43" width="9.70" height="9.70" stroke="#1f77b4"/><rect x="1355.18" y="183.61" width="9.70" height="9.70" stroke="#1f77b4"/><rect x="1360.93" y="197.17" width="9.70" height="9.70" stroke="#1f77b4"/><rect x="1366.68" y="203.34" width="9.70" height="9.70" stroke="#1f77b4"/><rect x="1372.43" y="216.90" width="9.70" height="9.70" stroke="#1f77b4"/><rect x="1378.18" y="223.07" width="9.70" height="9.70" stroke="#1f77b4"/><rect x="1383.93" y="236.63" width="9.70" height="9.70" stroke="#1f77b4"/><rect x="1389.68" y="242.80" width="9.70" height="9.70" stroke="#1f77b4"/><rect x="1395.43" y="256.36" width="9.70" height="9.70" stroke="#1f77b4"/><rect x="1401.18" y="262.53" width="9.70" height="9.70" stroke="#1f77b4"/><rect x="1406.93" y="276.09" width="9.70" height="9.70" stroke="#1f77b4"/><rect x="1412.67" y="282.26" width="9.70" height="9.70" stroke="#1f77b4"/><rect x="1418.43" y="295.82" width="9.70" height="9.70" stroke="#1f77b4"/><rect x="1424.18" y="302.00" width="9.70" height="9.70" stroke="#1f77b4"/><rect x="1429.93" y="315.56" width="9.70" height="9.70" stroke="#1f77b4"/><rect x="1435.68" y="321.73" width="9.70" height="9.70" stroke="#1f77b4"/><rect x="1441.43" y="335.29" width="9.70" height="9.70" stroke="#1f77b4"/><rect x="1447.18" y="341.46" width="9.70" height="9.70" stroke="#1f77b4"/><rect x="1452.93" y="355.02" width="9.70" height="9.70" stroke="#1f77b4"/><rect x="1458.68" y="361.19" width="9.70" height="9.70" stroke="#1f77b4"/><rect x="1464.43" y="374.75" width="9.70" height="9.70" stroke="#1f77b4"/><rect x="1470.18" y="380.92" width="9.70" height="9.70" stroke="#1f77b4"/><rect x="1475.93" y="394.48" width="9.70" height="9.70" stroke="#1f77b4"/><rect x="1481.68" y="400.65" width="9.70" height="9.70" stroke="#1f77b4"/><rect x="1487.43" y="414.21" width="9.70" height="9.70" stroke="#1f77b4"/><rect x="1493.18" y="420.38" width="9.70" height="9.70" stroke="#1f77b4"/><rect x="1498.93" y="433.95" width="9.70" height="9.70" stroke="#1f77b4"/><rect x="1504.68" y="440.12" width="9.70" height="9.70" stroke="#1f77b4"/><rect x="1510.43" y="453.68" width="9.70" height="9.70" stroke="#1f77b4"/><rect x="1516.18" y="459.85" width="9.70" height="9.70" stroke="#1f77b4"/></g>
<g fill="none" stroke-width="1.75"><rect x="946.92" y="461.88" width="9.70" height="9.70" stroke="#ff7f0e"/><rect x="952.67" y="458.95" width="9.70" height="9.70" stroke="#ff7f0e"/><rect x="958.42" y="449.89" width="9.70" height="9.70" stroke="#ff7f0e"/><rect x="964.17" y="446.97" width="9.70" height="9.70" stroke="#ff7f0e"/><rect x="969.92" y="437.91" width="9.70" height="9.70" stroke="#ff7f0e"/><rect x="975.67" y="434.99" width="9.70" height="9.70" stroke="#ff7f0e"/><rect x="981.42" y="425.93" width="9.70" height="9.70" stroke="#ff7f0e"/><rect x="987.17" y="423.00" width="9.70" height="9.70" stroke="#ff7f0e"/><rect x="992.92" y="413.94" width="9.70" height="9.70" stroke="#ff7f0e"/><rect x="998.67" y="411.02" width="9.70" height="9.70" stroke="#ff7f0e"/><rect x="1004.42" y="401.96" width="9.70" height="9.70" stroke="#ff7f0e"/><rect x="1010.17" y="399.04" width="9.70" height="9.70" stroke="#ff7f0e"/><rect x="1015.92" y="389.98" width="9.70" height="9.70" stroke="#ff7f0e"/><rect x="1021.68" y="387.05" width="9.70" height="9.70" stroke="#ff7f0e"/><rect x="1027.43" y="377.99" width="9.70" height="9.70" stroke="#ff7f0e"/><rect x="1033.18" y="375.07" width="9.70" height="9.70" stroke="#ff7f0e"/><rect x="1038.93" y="366.01" width="9.70" height="9.70" stroke="#ff7f0e"/><rect x="1044.68" y="363.08" width="9.70" height="9.70" stroke="#ff7f0e"/><rect x="1050.43" y="354.02" width="9.70" height="9.70" stroke="#ff7f0e"/><rect x="1056.18" y="351.10" width="9.70" height="9.70" stroke="#ff7f0e"/><rect x="1061.93" y="342.04" width="9.70" height="9.70" stroke="#ff7f0e"/><rect x="1067.68" y="339.12" width="9.70" height="9.70" stroke="#ff7f0e"/><rect x="1073.43" y="330.06" width="9.70" height="9.70" stroke="#ff7f0e"/><rect x="1079.18" y="327.13" width="9.70" height="9.70" stroke="#ff7f0e"/><rect x="1084.93" y="318.07" width="9.70" height="9.70" stroke="#ff7f0e"/><rect x="1090.68" y="315.15" width="9.70" height="9.70" stroke="#ff7f0e"/><rect x="1096.43" y="306.22" width="9.70" height="9.70" stroke="#ff7f0e"/><rect x="1102.18" y="303.29" width="9.70" height="9.70" stroke="#ff7f0e"/><rect x="1107.93" y="294.36" width="9.70" height="9.70" stroke="#ff7f0e"/><rect x="1113.68" y="291.44" width="9.70" height="9.70" stroke="#ff7f0e"/><rect x="1119.43" y="282.51" width="9.70" height="9.70" stroke="#ff7f0e"/><rect x="1125.18" y="279.58" width="9.70" height="9.70" stroke="#ff7f0e"/><rect x="1130.93" y="270.65" width="9.70" height="9.70" stroke="#ff7f0e"/><rect x="1136.68" y="267.73" width="9.70" height="9.70" stroke="#ff7f0e"/><rect x="1142.42" y="258.78" width="9.70" height="9.70" stroke="#ff7f0e"/><rect x="1148.18" y="255.85" width="9.70" height="9.70" stroke="#ff7f0e"/><rect x="1153.93" y="246.90" width="9.70" height="9.70" stroke="#ff7f0e"/><rect x="1159.68" y="243.98" width="9.70" height="9.70" stroke="#ff7f0e"/><rect x="1165.43" y="235.03" width="9.70" height="9.70" stroke="#ff7f0e"/><rect x="1171.18" y="232.10" width="9.70" height="9.70" stroke="#ff7f0e"/><rect x="1176.93" y="223.15" width="9.70" height="9.70" stroke="#ff7f0e"/><rect x="1182.68" y="218.28" width="9.70" height="9.70" stroke="#ff7f0e"/><rect x="1188.43" y="209.35" width="9.70" height="9.70" stroke="#ff7f0e"/><rect x="1194.18" y="206.75" width="9.70" height="9.70" stroke="#ff7f0e"/><rect x="1199.93" y="198.47" width="9.70" height="9.70" stroke="#ff7f0e"/><rect x="1205.68" y="195.87" width="9.70" height="9.70" stroke="#ff7f0e"/><rect x="1211.43" y="189.05" width="9.70" height="9.70" stroke="#ff7f0e"/><rect x="1217.18" y="186.61" width="9.70" height="9.70" stroke="#ff7f0e"/><rect x="1222.93" y="182.55" width="9.70" height="9.70" stroke="#ff7f0e"/><rect x="1228.68" y="179.87" width="9.70" height="9.70" stroke="#ff7f0e"/><rect x="1234.43" y="179.87" width="9.70" height="9.70" stroke="#ff7f0e"/><rect x="1240.18" y="182.55" width="9.70" height="9.70" stroke="#ff7f0e"/><rect x="1245.93" y="186.61" width="9.70" height="9.70" stroke="#ff7f0e"/><rect x="1251.68" y="189.05" width="9.70" height="9.70" stroke="#ff7f0e"/><rect x="1257.43" y="195.87" width="9.70" height="9.70" stroke="#ff7f0e"/><rect x="1263.18" y="198.47" width="9.70" height="9.70" stroke="#ff7f0e"/><rect x="1268.92" y="206.75" width="9.70" height="9.70" stroke="#ff7f0e"/><rect x="1274.68" y="209.35" width="9.70" height="9.70" stroke="#ff7f0e"/><rect x="1280.43" y="218.28" width="9.70" height="9.70" stroke="#ff7f0e"/><rect x="1286.18" y="223.15" width="9.70" height="9.70" stroke="#ff7f0e"/><rect x="1291.93" y="232.10" width="9.70" height="9.70" stroke="#ff7f0e"/><rect x="1297.68" y="235.03" width="9.70" height="9.70" stroke="#ff7f0e"/><rect x="1303.43" y="243.98" width="9.70" height="9.70" stroke="#ff7f0e"/><rect x="1309.18" y="246.90" width="9.70" height="9.70" stroke="#ff7f0e"/><rect x="1314.93" y="255.85" width="9.70" height="9.70" stroke="#ff7f0e"/><rect x="1320.68" y="258.78" width="9.70" height="9.70" stroke="#ff7f0e"/><rect x="1326.43" y="267.73" width="9.70" height="9.70" stroke="#ff7f0e"/><rect x="1332.18" y="270.65" width="9.70" height="9.70" stroke="#ff7f0e"/><rect x="1337.93" y="279.58" width="9.70" height="9.70" stroke="#ff7f0e"/><rect x="1343.68" y="282.51" width="9.70" height="9.70" stroke="#ff7f0e"/><rect x="1349.43" y="291.44" width="9.70" height="9.70" stroke="#ff7f0e"/><rect x="1355.18" y="294.36" width="9.70" height="9.70" stroke="#ff7f0e"/><rect x="1360.93" y="303.29" width="9.70" height="9.70" stroke="#ff7f0e"/><rect x="1366.68" y="306.22" width="9.70" height="9.70" stroke="#ff7f0e"/><rect x="1372.43" y="315.15" width="9.70" height="9.70" stroke="#ff7f0e"/><rect x="1378.18" y="318.07" width="9.70" height="9.70" stroke="#ff7f0e"/><rect x="1383.93" y="327.13" width="9.70" height="9.70" stroke="#ff7f0e"/><rect x="1389.68" y="330.06" width="9.70" height="9.70" stroke="#ff7f0e"/><rect x="1395.43" y="339.12" width="9.70" height="9.70" stroke="#ff7f0e"/><rect x="1401.18" y="342.04" width="9.70" height="9.70" stroke="#ff7f0e"/><rect x="1406.93" y="351.10" width="9.70" height="9.70" stroke="#ff7f0e"/><rect x="1412.67" y="354.02" width="9.70" height="9.70" stroke="#ff7f0e"/><rect x="1418.43" y="363.08" width="9.70" height="9.70" stroke="#ff7f0e"/><rect x="1424.18" y="366.01" width="9.70" height="9.70" stroke="#ff7f0e"/><rect x="1429.93" y="375.07" width="9.70" height="9.70" stroke="#ff7f0e"/><rect x="1435.68" y="377.99" width="9.70" height="9.70" stroke="#ff7f0e"/><rect x="1441.43" y="387.05" width="9.70" height="9.70" stroke="#ff7f0e"/><rect x="1447.18" y="389.98" width="9.70" height="9.70" stroke="#ff7f0e"/><rect x="1452.93" y="399.04" width="9.70" height="9.70" stroke="#ff7f0e"/><rect x="1458.68" y="401.96" width="9.70" height="9.70" stroke="#ff7f0e"/><rect x="1464.43" y="411.02" width="9.70" height="9.70" stroke="#ff7f0e"/><rect x="1470.18" y="413.94" width="9.70" height="9.70" stroke="#ff7f0e"/><rect x="1475.93" y="423.00" width="9.70" height="9.70" stroke="#ff7f0e"/><rect x="1481.68" y="425.93" width="9.70" height="9.70" stroke="#ff7f0e"/><rect x="1487.43" y="434.99" width="9.70" height="9.70" stroke="#ff7f0e"/><rect x="1493.18" y="437.91" width="9.70" height="9.70" stroke="#ff7f0e"/><rect x="1498.93" y="446.97" width="9.70" height="9.70" stroke="#ff7f0e"/><rect x="1504.68" y="449.89" width="9.70" height="9.70" stroke="#ff7f0e"/><rect x="1510.43" y="458.95" width="9.70" height="9.70" stroke="#ff7f0e"/><rect x="1516.18" y="461.88" width="9.70" height="9.70" stroke="#ff7f0e"/></g>
<g fill="none" stroke-width="1.75"><rect x="946.92" y="463.91" width="9.70" height="9.70" stroke="#2ca02c"/><rect x="952.67" y="462.69" width="9.70" height="9.70" stroke="#2ca02c"/><rect x="958.42" y="456.82" width="9.70" height="9.70" stroke="#2ca02c"/><rect x="964.17" y="455.60" width="9.70" height="9.70" stroke="#2ca02c"/><rect x="969.92" y="449.72" width="9.70" height="9.70" stroke="#2ca02c"/><rect x="975.67" y="448.50" width="9.70" height="9.70" stroke="#2ca02c"/><rect x="981.42" y="442.63" width="9.70" height="9.70" stroke="#2ca02c"/><rect x="987.17" y="441.41" width="9.70" height="9.70" stroke="#2ca02c"/><rect x="992.92" y="435.54" width="9.70" height="9.70" stroke="#2ca02c"/><rect x="998.67" y="434.32" width="9.70" height="9.70" stroke="#2ca02c"/><rect x="1004.42" y="428.44" width="9.70" height="9.70" stroke="#2ca02c"/><rect x="1010.17" y="427.23" width="9.70" height="9.70" stroke="#2ca02c"/><rect x="1015.92" y="421.35" width="9.70" height="9.70" stroke="#2ca02c"/><rect x="1021.68" y="420.13" width="9.70" height="9.70" stroke="#2ca02c"/><rect x="1027.43" y="414.26" width="9.70" height="9.70" stroke="#2ca02c"/><rect x="1033.18" y="413.04" width="9.70" height="9.70" stroke="#2ca02c"/><rect x="1038.93" y="407.17" width="9.70" height="9.70" stroke="#2ca02c"/><rect x="1044.68" y="405.95" width="9.70" height="9.70" stroke="#2ca02c"/><rect x="1050.43" y="400.07" width="9.70" height="9.70" stroke="#2ca02c"/><rect x="1056.18" y="398.85" width="9.70" height="9.70" stroke="#2ca02c"/><rect x="1061.93" y="392.98" width="9.70" height="9.70" stroke="#2ca02c"/><rect x="1067.68" y="391.76" width="9.70" height="9.70" stroke="#2ca02c"/><rect x="1073.43" y="385.89" width="9.70" height="9.70" stroke="#2ca02c"/><rect x="1079.18" y="384.67" width="9.70" height="9.70" stroke="#2ca02c"/><rect x="1084.93" y="378.79" width="9.70" height="9.70" stroke="#2ca02c"/><rect x="1090.68" y="377.58" width="9.70" height="9.70" stroke="#2ca02c"/><rect x="1096.43" y="371.70" width="9.70" height="9.70" stroke="#2ca02c"/><rect x="1102.18" y="370.48" width="9.70" height="9.70" stroke="#2ca02c"/><rect x="1107.93" y="364.61" width="9.70" height="9.70" stroke="#2ca02c"/><rect x="1113.68" y="363.39" width="9.70" height="9.70" stroke="#2ca02c"/><rect x="1119.43" y="357.52" width="9.70" height="9.70" stroke="#2ca02c"/><rect x="1125.18" y="356.30" width="9.70" height="9.70" stroke="#2ca02c"/><rect x="1130.93" y="350.42" width="9.70" height="9.70" stroke="#2ca02c"/><rect x="1136.68" y="349.20" width="9.70" height="9.70" stroke="#2ca02c"/><rect x="1142.42" y="343.33" width="9.70" height="9.70" stroke="#2ca02c"/><rect x="1148.18" y="342.11" width="9.70" height="9.70" stroke="#2ca02c"/><rect x="1153.93" y="336.24" width="9.70" height="9.70" stroke="#2ca02c"/><rect x="1159.68" y="335.02" width="9.70" height="9.70" stroke="#2ca02c"/><rect x="1165.43" y="329.14" width="9.70" height="9.70" stroke="#2ca02c"/><rect x="1171.18" y="327.93" width="9.70" height="9.70" stroke="#2ca02c"/><rect x="1176.93" y="322.05" width="9.70" height="9.70" stroke="#2ca02c"/><rect x="1182.68" y="320.02" width="9.70" height="9.70" stroke="#2ca02c"/><rect x="1188.43" y="314.34" width="9.70" height="9.70" stroke="#2ca02c"/><rect x="1194.18" y="313.36" width="9.70" height="9.70" stroke="#2ca02c"/><rect x="1199.93" y="307.11" width="9.70" height="9.70" stroke="#2ca02c"/><rect x="1205.68" y="306.14" width="9.70" height="9.70" stroke="#2ca02c"/><rect x="1211.43" y="300.45" width="9.70" height="9.70" stroke="#2ca02c"/><rect x="1217.18" y="298.99" width="9.70" height="9.70" stroke="#2ca02c"/><rect x="1222.93" y="295.17" width="9.70" height="9.70" stroke="#2ca02c"/><rect x="1228.68" y="293.79" width="9.70" height="9.70" stroke="#2ca02c"/><rect x="1234.43" y="293.79" width="9.70" height="9.70" stroke="#2ca02c"/><rect x="1240.18" y="295.17" width="9.70" height="9.70" stroke="#2ca02c"/><rect x="1245.93" y="298.99" width="9.70" height="9.70" stroke="#2ca02c"/><rect x="1251.68" y="300.45" width="9.70" height="9.70" stroke="#2ca02c"/><rect x="1257.43" y="306.14" width="9.70" height="9.70" stroke="#2ca02c"/><rect x="1263.18" y="307.11" width="9.70" height="9.70" stroke="#2ca02c"/><rect x="1268.92" y="313.36" width="9.70" height="9.70" stroke="#2ca02c"/><rect x="1274.68" y="314.34" width="9.70" height="9.70" stroke="#2ca02c"/><rect x="1280.43" y="320.02" width="9.70" height="9.70" stroke="#2ca02c"/><rect x="1286.18" y="322.05" width="9.70" height="9.70" stroke="#2ca02c"/><rect x="1291.93" y="327.93" width="9.70" height="9.70" stroke="#2ca02c"/><rect x="1297.68" y="329.14" width="9.70" height="9.70" stroke="#2ca02c"/><rect x="1303.43" y="335.02" width="9.70" height="9.70" stroke="#2ca02c"/><rect x="1309.18" y="336.24" width="9.70" height="9.70" stroke="#2ca02c"/><rect x="1314.93" y="342.11" width="9.70" height="9.70" stroke="#2ca02c"/><rect x="1320.68" y="343.33" width="9.70" height="9.70" stroke="#2ca02c"/><rect x="1326.43" y="349.20" width="9.70" height="9.70" stroke="#2ca02c"/><rect x="1332.18" y="350.42" width="9.70" height="9.70" stroke="#2ca02c"/><rect x="1337.93" y="356.30" width="9.70" height="9.70" stroke="#2ca02c"/><rect x="1343.68" y="357.52" width="9.70" height="9.70" stroke="#2ca02c"/><rect x="1349.43" y="363.39" width="9.70" height="9.70" stroke="#2ca02c"/><rect x="1355.18" y="364.61" width="9.70" height="9.70" stroke="#2ca02c"/><rect x="1360.93" y="370.48" width="9.70" height="9.70" stroke="#2ca02c"/><rect x="1366.68" y="371.70" width="9.70" height="9.70" stroke="#2ca02c"/><rect x="1372.43" y="377.58" width="9.70" height="9.70" stroke="#2ca02c"/><rect x="1378.18" y="378.79" width="9.70" height="9.70" stroke="#2ca02c"/><rect x="1383.93" y="384.67" width="9.70" height="9.70" stroke="#2ca02c"/><rect x="1389.68" y="385.89" width="9.70" height="9.70" stroke="#2ca02c"/><rect x="1395.43" y="391.76" width="9.70" height="9.70" stroke="#2ca02c"/><rect x="1401.18" y="392.98" width="9.70" height="9.70" stroke="#2ca02c"/><rect x="1406.93" y="398.85" width="9.70" height="9.70" stroke="#2ca02c"/><rect x="1412.67" y="400.07" width="9.70" height="9.70" stroke="#2ca02c"/><rect x="1418.43" y="405.95" width="9.70" height="9.70" stroke="#2ca02c"/><rect x="1424.18" y="407.17" width="9.70" height="9.70" stroke="#2ca02c"/><rect x="1429.93" y="413.04" width="9.70" height="9.70" stroke="#2ca02c"/><rect x="1435.68" y="414.26" width="9.70" height="9.70" stroke="#2ca02c"/><rect x="1441.43" y="420.13" width="9.70" height="9.70" stroke="#2ca02c"/><rect x="1447.18" y="421.35" width="9.70" height="9.70" stroke="#2ca02c"/><rect x="1452.93" y="427.23" width="9.70" height="9.70" stroke="#2ca02c"/><rect x="1458.68" y="428.44" width="9.70" height="9.70" stroke="#2ca02c"/><rect x="1464.43" y="434.32" width="9.70" height="9.70" stroke="#2ca02c"/><rect x="1470.18" y="435.54" width="9.70" height="9.70" stroke="#2ca02c"/><rect x="1475.93" y="441.41" width="9.70" height="9.70" stroke="#2ca02c"/><rect x="1481.68" y="442.63" width="9.70" height="9.70" stroke="#2ca02c"/><rect x="1487.43" y="448.50" width="9.70" height="9.70" stroke="#2ca02c"/><rect x="1493.18" y="449.72" width="9.70" height="9.70" stroke="#2ca02c"/><rect x="1498.93" y="455.60" width="9.70" height="9.70" stroke="#2ca02c"/><rect x="1504.68" y="456.82" width="9.70" height="9.70" stroke="#2ca02c"/><rect x="1510.43" y="462.69" width="9.70" height="9.70" stroke="#2ca02c"/><rect x="1516.18" y="463.91" width="9.70" height="9.70" stroke="#2ca02c"/></g>
<path d="M153.80 496.90v-6.0M153.80 0.80v6.0M269.96 496.90v-6.0M269.96 0.80v6.0M386.12 496.90v-6.0M386.12 0.80v6.0M502.28 496.90v-6.0M502.28 0.80v6.0M618.44 496.90v-6.0M618.44 0.80v6.0M734.60 496.90v-6.0M734.60 0.80v6.0M131.10 478.30h6.0M757.10 478.30h-6.0M131.10 394.80h6.0M757.10 394.80h-6.0M131.10 311.30h6.0M757.10 311.30h-6.0M131.10 227.80h6.0M757.10 227.80h-6.0M131.10 144.30h6.0M757.10 144.30h-6.0M131.10 60.80h6.0M757.10 60.80h-6.0" stroke="#000" stroke-width="1.4" fill="none"/>
<rect x="131.10" y="0.80" width="626.00" height="496.10" fill="none" stroke="#000" stroke-width="1.5"/>
<text x="126.00" y="487.10" text-anchor="end" class="tk">0</text>
<text x="126.00" y="403.60" text-anchor="end" class="tk">10</text>
<text x="126.00" y="320.10" text-anchor="end" class="tk">20</text>
<text x="126.00" y="236.60" text-anchor="end" class="tk">30</text>
<text x="126.00" y="153.10" text-anchor="end" class="tk">40</text>
<text x="126.00" y="69.60" text-anchor="end" class="tk">50</text>
<text x="153.80" y="521.20" text-anchor="middle" class="tk">0.0</text>
<text x="269.96" y="521.20" text-anchor="middle" class="tk">0.2</text>
<text x="386.12" y="521.20" text-anchor="middle" class="tk">0.4</text>
<text x="502.28" y="521.20" text-anchor="middle" class="tk">0.6</text>
<text x="618.44" y="521.20" text-anchor="middle" class="tk">0.8</text>
<text x="734.60" y="521.20" text-anchor="middle" class="tk">1.0</text>
<path d="M948.90 491.10v-6.0M948.90 0.80v6.0M1063.90 491.10v-6.0M1063.90 0.80v6.0M1178.90 491.10v-6.0M1178.90 0.80v6.0M1293.90 491.10v-6.0M1293.90 0.80v6.0M1408.90 491.10v-6.0M1408.90 0.80v6.0M1523.90 491.10v-6.0M1523.90 0.80v6.0M923.50 471.85h6.0M1549.10 471.85h-6.0M923.50 390.58h6.0M1549.10 390.58h-6.0M923.50 309.31h6.0M1549.10 309.31h-6.0M923.50 228.04h6.0M1549.10 228.04h-6.0M923.50 146.77h6.0M1549.10 146.77h-6.0M923.50 65.50h6.0M1549.10 65.50h-6.0" stroke="#000" stroke-width="1.4" fill="none"/>
<rect x="923.50" y="0.80" width="625.60" height="490.30" fill="none" stroke="#000" stroke-width="1.5"/>
<text x="918.40" y="480.55" text-anchor="end" class="tk">0</text>
<text x="918.40" y="399.28" text-anchor="end" class="tk">10</text>
<text x="918.40" y="318.01" text-anchor="end" class="tk">20</text>
<text x="918.40" y="236.74" text-anchor="end" class="tk">30</text>
<text x="918.40" y="155.47" text-anchor="end" class="tk">40</text>
<text x="918.40" y="74.20" text-anchor="end" class="tk">50</text>
<text x="948.90" y="515.00" text-anchor="middle" class="tk">0.0</text>
<text x="1063.90" y="515.00" text-anchor="middle" class="tk">0.2</text>
<text x="1178.90" y="515.00" text-anchor="middle" class="tk">0.4</text>
<text x="1293.90" y="515.00" text-anchor="middle" class="tk">0.6</text>
<text x="1408.90" y="515.00" text-anchor="middle" class="tk">0.8</text>
<text x="1523.90" y="515.00" text-anchor="middle" class="tk">1.0</text>
<rect x="571.0" y="8.7" width="177.6" height="150.1" rx="3.5" ry="3.5" fill="#fff" fill-opacity="0.8" stroke="#cccccc" stroke-width="1.6"/>
<g fill="none" stroke-width="1.75"><circle cx="593.90" cy="22.30" r="4.9" stroke="#1f77b4"/></g>
<text x="623.47" y="28.60" font-size="17.4" textLength="11.75" lengthAdjust="spacingAndGlyphs" style="font-style:italic">w</text>
<text x="639.80" y="29.85" font-size="17.4" textLength="13.56" lengthAdjust="spacingAndGlyphs">=</text>
<text x="657.14" y="28.60" font-size="17.4" textLength="26.41" lengthAdjust="spacingAndGlyphs">5.0,</text>
<text x="693.33" y="28.60" font-size="17.4" textLength="5.64" lengthAdjust="spacingAndGlyphs" style="font-style:italic">j</text>
<text x="701.52" y="28.60" font-size="17.4" textLength="32.29" lengthAdjust="spacingAndGlyphs">even</text>
<g fill="none" stroke-width="1.75"><path d="M588.90 41.50L598.90 51.50M588.90 51.50L598.90 41.50" stroke="#1f77b4"/></g>
<text x="623.47" y="52.40" font-size="17.4" textLength="11.75" lengthAdjust="spacingAndGlyphs" style="font-style:italic">w</text>
<text x="639.80" y="53.65" font-size="17.4" textLength="13.56" lengthAdjust="spacingAndGlyphs">=</text>
<text x="657.14" y="52.40" font-size="17.4" textLength="26.41" lengthAdjust="spacingAndGlyphs">5.0,</text>
<text x="693.33" y="52.40" font-size="17.4" textLength="5.64" lengthAdjust="spacingAndGlyphs" style="font-style:italic">j</text>
<text x="701.48" y="52.40" font-size="17.4" textLength="26.90" lengthAdjust="spacingAndGlyphs">odd</text>
<g fill="none" stroke-width="1.75"><circle cx="593.90" cy="70.70" r="4.9" stroke="#ff7f0e"/></g>
<text x="623.47" y="77.00" font-size="17.4" textLength="11.75" lengthAdjust="spacingAndGlyphs" style="font-style:italic">w</text>
<text x="639.80" y="78.25" font-size="17.4" textLength="13.56" lengthAdjust="spacingAndGlyphs">=</text>
<text x="657.02" y="77.00" font-size="17.4" textLength="35.14" lengthAdjust="spacingAndGlyphs">10.0,</text>
<text x="701.53" y="77.00" font-size="17.4" textLength="5.64" lengthAdjust="spacingAndGlyphs" style="font-style:italic">j</text>
<text x="709.82" y="77.00" font-size="17.4" textLength="32.29" lengthAdjust="spacingAndGlyphs">even</text>
<g fill="none" stroke-width="1.75"><path d="M588.90 89.90L598.90 99.90M588.90 99.90L598.90 89.90" stroke="#ff7f0e"/></g>
<text x="623.47" y="101.00" font-size="17.4" textLength="11.75" lengthAdjust="spacingAndGlyphs" style="font-style:italic">w</text>
<text x="639.80" y="102.25" font-size="17.4" textLength="13.56" lengthAdjust="spacingAndGlyphs">=</text>
<text x="657.02" y="101.00" font-size="17.4" textLength="35.14" lengthAdjust="spacingAndGlyphs">10.0,</text>
<text x="701.53" y="101.00" font-size="17.4" textLength="5.64" lengthAdjust="spacingAndGlyphs" style="font-style:italic">j</text>
<text x="709.78" y="101.00" font-size="17.4" textLength="26.90" lengthAdjust="spacingAndGlyphs">odd</text>
<g fill="none" stroke-width="1.75"><circle cx="593.90" cy="119.10" r="4.9" stroke="#2ca02c"/></g>
<text x="623.47" y="125.20" font-size="17.4" textLength="11.75" lengthAdjust="spacingAndGlyphs" style="font-style:italic">w</text>
<text x="639.80" y="126.45" font-size="17.4" textLength="13.56" lengthAdjust="spacingAndGlyphs">=</text>
<text x="657.92" y="125.20" font-size="17.4" textLength="34.21" lengthAdjust="spacingAndGlyphs">20.0,</text>
<text x="701.53" y="125.20" font-size="17.4" textLength="5.64" lengthAdjust="spacingAndGlyphs" style="font-style:italic">j</text>
<text x="709.82" y="125.20" font-size="17.4" textLength="32.29" lengthAdjust="spacingAndGlyphs">even</text>
<g fill="none" stroke-width="1.75"><path d="M588.90 138.30L598.90 148.30M588.90 148.30L598.90 138.30" stroke="#2ca02c"/></g>
<text x="623.47" y="149.50" font-size="17.4" textLength="11.75" lengthAdjust="spacingAndGlyphs" style="font-style:italic">w</text>
<text x="639.80" y="150.75" font-size="17.4" textLength="13.56" lengthAdjust="spacingAndGlyphs">=</text>
<text x="657.92" y="149.50" font-size="17.4" textLength="34.21" lengthAdjust="spacingAndGlyphs">20.0,</text>
<text x="701.53" y="149.50" font-size="17.4" textLength="5.64" lengthAdjust="spacingAndGlyphs" style="font-style:italic">j</text>
<text x="709.78" y="149.50" font-size="17.4" textLength="26.90" lengthAdjust="spacingAndGlyphs">odd</text>
<rect x="1418.2" y="9.0" width="122.8" height="76.7" rx="3.5" ry="3.5" fill="#fff" fill-opacity="0.8" stroke="#cccccc" stroke-width="1.6"/>
<g fill="none" stroke-width="1.75"><rect x="1436.25" y="17.35" width="9.70" height="9.70" stroke="#1f77b4"/></g>
<text x="1470.92" y="28.60" font-size="17.4" textLength="12.92" lengthAdjust="spacingAndGlyphs" style="font-style:italic">w</text>
<text x="1487.17" y="29.85" font-size="17.4" textLength="13.92" lengthAdjust="spacingAndGlyphs">=</text>
<text x="1504.43" y="28.60" font-size="17.4" textLength="22.28" lengthAdjust="spacingAndGlyphs">5.0</text>
<g fill="none" stroke-width="1.75"><rect x="1436.25" y="41.60" width="9.70" height="9.70" stroke="#ff7f0e"/></g>
<text x="1470.92" y="52.60" font-size="17.4" textLength="12.92" lengthAdjust="spacingAndGlyphs" style="font-style:italic">w</text>
<text x="1487.17" y="53.85" font-size="17.4" textLength="13.92" lengthAdjust="spacingAndGlyphs">=</text>
<text x="1503.90" y="52.60" font-size="17.4" textLength="31.11" lengthAdjust="spacingAndGlyphs">10.0</text>
<g fill="none" stroke-width="1.75"><rect x="1436.25" y="65.85" width="9.70" height="9.70" stroke="#2ca02c"/></g>
<text x="1470.92" y="76.40" font-size="17.4" textLength="12.92" lengthAdjust="spacingAndGlyphs" style="font-style:italic">w</text>
<text x="1487.17" y="77.65" font-size="17.4" textLength="13.92" lengthAdjust="spacingAndGlyphs">=</text>
<text x="1504.81" y="76.40" font-size="17.4" textLength="30.18" lengthAdjust="spacingAndGlyphs">20.0</text>
<text transform="translate(57.58,317.90) rotate(-90)" x="0" y="0" font-size="31.52" textLength="33.43" lengthAdjust="spacingAndGlyphs">Re</text>
<path d="M6.9 268.8V276.3H93.9V268.8M6.9 196.8V189.1H93.9V196.8" fill="none" stroke="#000" stroke-width="1.9"/>
<path d="M50.1 199.2V266.3" stroke="#000" stroke-width="1.6"/>
<text transform="translate(37.40,264.78) rotate(-90)" x="0" y="0" font-size="30.0" textLength="14.45" lengthAdjust="spacingAndGlyphs" style="font-style:italic">k</text>
<text transform="translate(24.80,247.74) rotate(-90)" x="0" y="0" font-size="22.5" textLength="12.96" lengthAdjust="spacingAndGlyphs" style="font-style:italic">A</text>
<text transform="translate(73.20,266.04) rotate(-90)" x="0" y="0" font-size="30.0" textLength="17.98" lengthAdjust="spacingAndGlyphs" style="font-style:italic">h</text>
<text transform="translate(44.60,210.22) rotate(-90)" x="0" y="0" font-size="21" textLength="9.00" lengthAdjust="spacingAndGlyphs">1</text>
<text transform="translate(49.42,226.43) rotate(-90)" x="0" y="0" font-size="30.22" textLength="16.08" lengthAdjust="spacingAndGlyphs">+</text>
<text transform="translate(44.60,233.04) rotate(-90)" x="0" y="0" font-size="21" textLength="5.71" lengthAdjust="spacingAndGlyphs" style="font-style:italic">j</text>
<text transform="translate(44.60,240.87) rotate(-90)" x="0" y="0" font-size="21" textLength="4.17" lengthAdjust="spacingAndGlyphs">,</text>
<text transform="translate(44.60,247.55) rotate(-90)" x="0" y="0" font-size="21" textLength="6.95" lengthAdjust="spacingAndGlyphs" style="font-style:italic">j</text>
<text transform="translate(77.30,209.92) rotate(-90)" x="0" y="0" font-size="21" textLength="9.00" lengthAdjust="spacingAndGlyphs">1</text>
<text transform="translate(82.12,226.13) rotate(-90)" x="0" y="0" font-size="30.22" textLength="16.08" lengthAdjust="spacingAndGlyphs">+</text>
<text transform="translate(77.30,232.74) rotate(-90)" x="0" y="0" font-size="21" textLength="5.71" lengthAdjust="spacingAndGlyphs" style="font-style:italic">j</text>
<text transform="translate(77.30,240.57) rotate(-90)" x="0" y="0" font-size="21" textLength="4.17" lengthAdjust="spacingAndGlyphs">,</text>
<text transform="translate(77.30,247.25) rotate(-90)" x="0" y="0" font-size="21" textLength="6.95" lengthAdjust="spacingAndGlyphs" style="font-style:italic">j</text>
<text transform="translate(850.20,301.97) rotate(-90)" x="0" y="0" font-size="32.46" textLength="32.59" lengthAdjust="spacingAndGlyphs">Im</text>
<path d="M798.9 252.7V260.2H886.0V252.7M798.9 206.2V198.9H886.0V206.2" fill="none" stroke="#000" stroke-width="1.9"/>
<path d="M842.6 209.0V249.9" stroke="#000" stroke-width="1.6"/>
<text transform="translate(829.60,248.75) rotate(-90)" x="0" y="0" font-size="30.0" textLength="14.04" lengthAdjust="spacingAndGlyphs" style="font-style:italic">k</text>
<text transform="translate(817.40,230.62) rotate(-90)" x="0" y="0" font-size="22.5" textLength="12.03" lengthAdjust="spacingAndGlyphs" style="font-style:italic">A</text>
<text transform="translate(865.00,250.07) rotate(-90)" x="0" y="0" font-size="30.0" textLength="15.83" lengthAdjust="spacingAndGlyphs" style="font-style:italic">h</text>
<text transform="translate(836.40,217.99) rotate(-90)" x="0" y="0" font-size="21" textLength="6.10" lengthAdjust="spacingAndGlyphs" style="font-style:italic">j</text>
<text transform="translate(836.40,224.84) rotate(-90)" x="0" y="0" font-size="21" textLength="4.00" lengthAdjust="spacingAndGlyphs">,</text>
<text transform="translate(836.40,232.09) rotate(-90)" x="0" y="0" font-size="21" textLength="6.10" lengthAdjust="spacingAndGlyphs" style="font-style:italic">j</text>
<text transform="translate(869.40,217.19) rotate(-90)" x="0" y="0" font-size="21" textLength="6.10" lengthAdjust="spacingAndGlyphs" style="font-style:italic">j</text>
<text transform="translate(869.40,224.04) rotate(-90)" x="0" y="0" font-size="21" textLength="4.00" lengthAdjust="spacingAndGlyphs">,</text>
<text transform="translate(869.40,231.29) rotate(-90)" x="0" y="0" font-size="21" textLength="6.10" lengthAdjust="spacingAndGlyphs" style="font-style:italic">j</text>
<text x="427.11" y="553.72" font-size="29.89" textLength="9.88" lengthAdjust="spacingAndGlyphs" style="font-style:italic">j</text>
<text x="439.20" y="560.36" font-size="44.18" textLength="11.52" lengthAdjust="spacingAndGlyphs">/</text>
<text x="451.78" y="554.08" font-size="32.24" textLength="12.82" lengthAdjust="spacingAndGlyphs" style="font-style:italic">ℓ</text>
<text x="1178.71" y="552.79" font-size="39.56" textLength="10.76" lengthAdjust="spacingAndGlyphs">(</text>
<text x="1192.65" y="550.62" font-size="29.89" textLength="9.73" lengthAdjust="spacingAndGlyphs" style="font-style:italic">j</text>
<text x="1209.09" y="556.81" font-size="41.09" textLength="22.68" lengthAdjust="spacingAndGlyphs">+</text>
<text x="1239.58" y="538.90" font-size="20.76" textLength="9.57" lengthAdjust="spacingAndGlyphs">1</text>
<path d="M1239.2 543.5H1250.1" stroke="#000" stroke-width="1.3"/>
<text x="1239.43" y="561.10" font-size="21.36" textLength="10.88" lengthAdjust="spacingAndGlyphs">2</text>
<text x="1252.08" y="552.79" font-size="39.56" textLength="10.25" lengthAdjust="spacingAndGlyphs">)</text>
<text x="1271.90" y="558.14" font-size="45.67" textLength="11.22" lengthAdjust="spacingAndGlyphs">/</text>
<text x="1284.27" y="551.18" font-size="31.94" textLength="13.03" lengthAdjust="spacingAndGlyphs" style="font-style:italic">ℓ</text>
<text x="-1.42" y="615.38" font-size="35.33" textLength="11.79" lengthAdjust="spacingAndGlyphs" style="font-weight:bold">(</text>
<text x="10.47" y="615.10" font-size="31.7" textLength="18.89" lengthAdjust="spacingAndGlyphs" style="font-weight:bold">a</text>
<text x="29.44" y="615.38" font-size="35.33" textLength="11.79" lengthAdjust="spacingAndGlyphs" style="font-weight:bold">)</text>
<text x="54.98" y="615.10" font-size="31.7" textLength="62.39" lengthAdjust="spacingAndGlyphs">Real</text>
<text x="127.46" y="615.10" font-size="31.7" textLength="57.41" lengthAdjust="spacingAndGlyphs">part</text>
<text x="195.10" y="615.10" font-size="31.7" textLength="29.21" lengthAdjust="spacingAndGlyphs">of</text>
<text x="232.74" y="615.10" font-size="31.7" textLength="44.21" lengthAdjust="spacingAndGlyphs">the</text>
<text x="287.22" y="615.10" font-size="31.7" textLength="246.60" lengthAdjust="spacingAndGlyphs">nearest-neighbour</text>
<text x="544.16" y="615.10" font-size="31.7" textLength="117.09" lengthAdjust="spacingAndGlyphs">coupling</text>
<text x="671.95" y="615.10" font-size="31.7" textLength="15.49" lengthAdjust="spacingAndGlyphs" style="font-style:italic">k</text>
<text x="692.46" y="601.60" font-size="23.2" textLength="15.37" lengthAdjust="spacingAndGlyphs" style="font-style:italic">A</text>
<text x="692.06" y="621.00" font-size="21.2" textLength="7.49" lengthAdjust="spacingAndGlyphs" style="font-style:italic">j</text>
<text x="700.25" y="621.00" font-size="21.2" textLength="4.67" lengthAdjust="spacingAndGlyphs">,</text>
<text x="710.39" y="621.00" font-size="21.2" textLength="7.57" lengthAdjust="spacingAndGlyphs" style="font-style:italic">j</text>
<text x="718.14" y="624.65" font-size="31.52" textLength="21.00" lengthAdjust="spacingAndGlyphs">+</text>
<text x="738.66" y="621.00" font-size="21.2" textLength="12.43" lengthAdjust="spacingAndGlyphs">1</text>
<text x="753.22" y="615.10" font-size="31.7" textLength="8.86" lengthAdjust="spacingAndGlyphs">.</text>
<text x="820.18" y="615.33" font-size="35.56" textLength="11.79" lengthAdjust="spacingAndGlyphs" style="font-weight:bold">(</text>
<text x="833.74" y="615.10" font-size="31.7" textLength="19.96" lengthAdjust="spacingAndGlyphs" style="font-weight:bold">b</text>
<text x="854.44" y="615.33" font-size="35.56" textLength="11.79" lengthAdjust="spacingAndGlyphs" style="font-weight:bold">)</text>
<text x="879.60" y="615.10" font-size="31.7" textLength="143.88" lengthAdjust="spacingAndGlyphs">Imaginary</text>
<text x="1035.05" y="615.10" font-size="31.7" textLength="58.53" lengthAdjust="spacingAndGlyphs">part</text>
<text x="1104.21" y="615.10" font-size="31.7" textLength="29.00" lengthAdjust="spacingAndGlyphs">of</text>
<text x="1141.93" y="615.10" font-size="31.7" textLength="45.56" lengthAdjust="spacingAndGlyphs">the</text>
<text x="1197.05" y="615.10" font-size="31.7" textLength="122.09" lengthAdjust="spacingAndGlyphs">chemical</text>
<text x="1329.88" y="615.10" font-size="31.7" textLength="125.91" lengthAdjust="spacingAndGlyphs">potential</text>
<text x="1467.16" y="615.10" font-size="31.7" textLength="15.38" lengthAdjust="spacingAndGlyphs" style="font-style:italic">k</text>
<text x="1487.35" y="601.60" font-size="23.2" textLength="15.27" lengthAdjust="spacingAndGlyphs" style="font-style:italic">A</text>
<text x="1486.86" y="621.00" font-size="21.2" textLength="7.49" lengthAdjust="spacingAndGlyphs" style="font-style:italic">j</text>
<text x="1495.25" y="621.00" font-size="21.2" textLength="4.67" lengthAdjust="spacingAndGlyphs">,</text>
<text x="1505.26" y="621.00" font-size="21.2" textLength="7.49" lengthAdjust="spacingAndGlyphs" style="font-style:italic">j</text>
<text x="1515.36" y="615.10" font-size="31.7" textLength="9.77" lengthAdjust="spacingAndGlyphs">.</text>
</svg>
</body></html>
